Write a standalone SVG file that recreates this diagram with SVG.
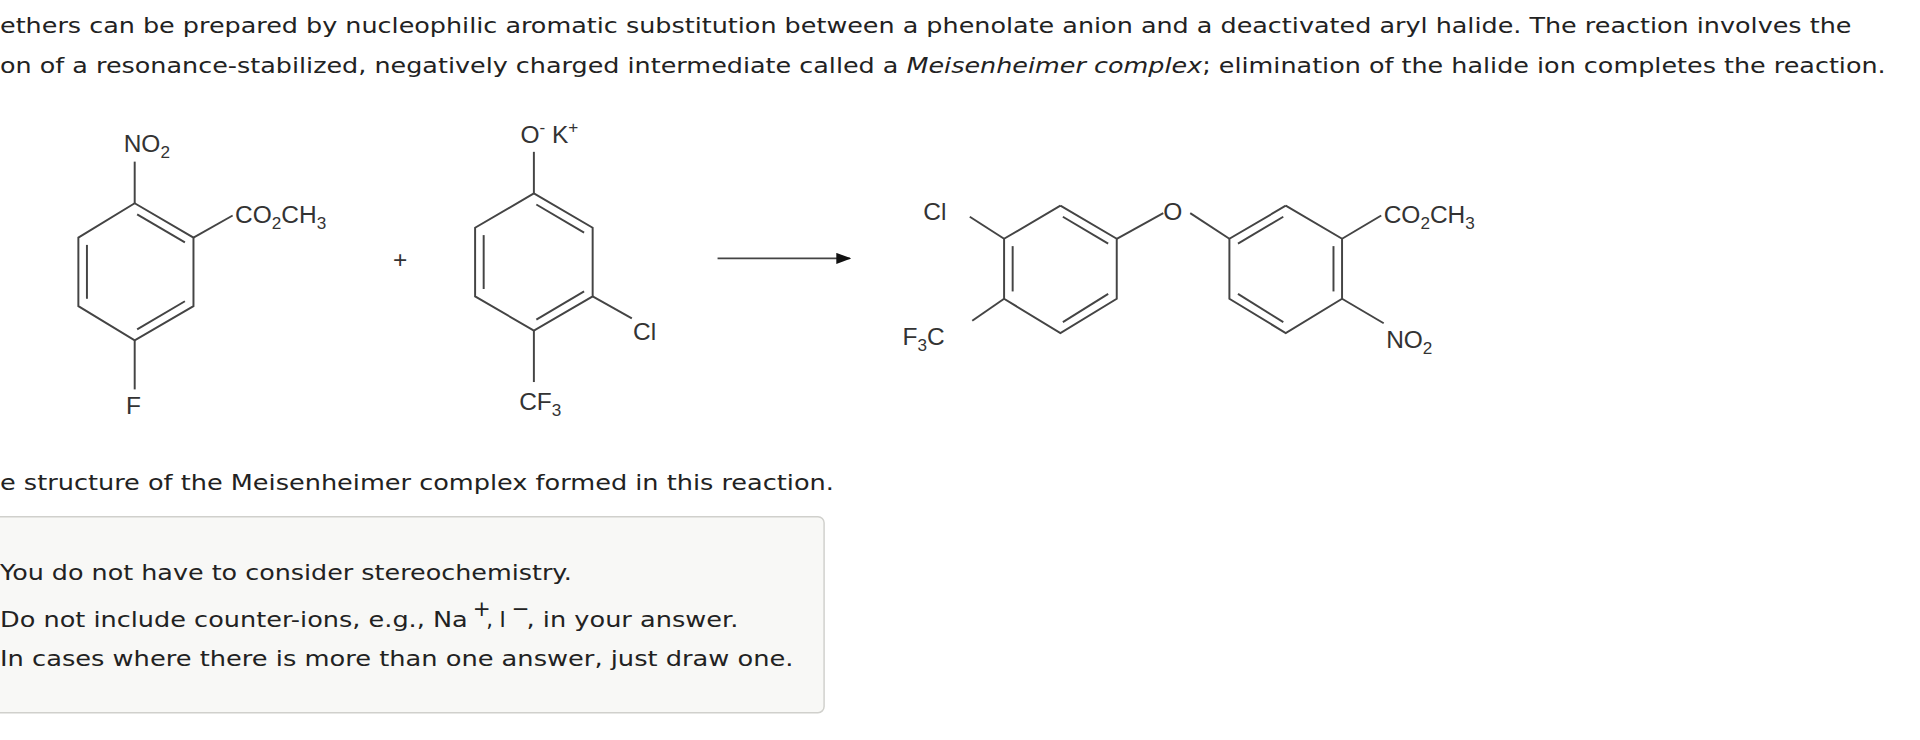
<svg xmlns="http://www.w3.org/2000/svg" width="1920" height="740" viewBox="0 0 1920 740">
<style>
.t{font-family:"DejaVu Sans",Verdana,sans-serif;font-size:17.5px;fill:#222}
.c{font-family:"Liberation Sans",Arial,sans-serif;font-size:20px;fill:#333}
.s{font-size:14px}
.b line,.b polyline{stroke:#444;stroke-width:1.6;fill:none}
</style>
<defs><marker id="ar" markerWidth="12" markerHeight="9" refX="11" refY="4.5" orient="auto" markerUnits="userSpaceOnUse"><path d="M0,0 L12,4.5 L0,9 Z" fill="#111"/></marker></defs>
<rect width="1920" height="740" fill="#fff"/>
<g transform="scale(1.2245)">
<g id="text">
<text class="t" x="0" y="27" textLength="1512" lengthAdjust="spacingAndGlyphs">ethers can be prepared by nucleophilic aromatic substitution between a phenolate anion and a deactivated aryl halide. The reaction involves the</text>
<text class="t" x="0" y="60" textLength="1540" lengthAdjust="spacingAndGlyphs">on of a resonance-stabilized, negatively charged intermediate called a <tspan font-style="italic">Meisenheimer complex</tspan>; elimination of the halide ion completes the reaction.</text>
<text class="t" x="0" y="400" textLength="681" lengthAdjust="spacingAndGlyphs">e structure of the Meisenheimer complex formed in this reaction.</text>
</g>
<g id="box">
<rect x="-6" y="422" width="679" height="160" rx="5" fill="#f8f8f6" stroke="#d0d0cc" stroke-width="1.2"/>
<text class="t" x="0" y="474" textLength="467" lengthAdjust="spacingAndGlyphs">You do not have to consider stereochemistry.</text>
<text class="t" x="0" y="512" textLength="382" lengthAdjust="spacingAndGlyphs">Do not include counter-ions, e.g., Na</text>
<text class="t" x="386" y="503" font-size="12">+</text>
<text class="t" x="397" y="512" textLength="16" lengthAdjust="spacingAndGlyphs">, I</text>
<text class="t" x="418" y="503" font-size="12">−</text>
<text class="t" x="430" y="512" textLength="173" lengthAdjust="spacingAndGlyphs">, in your answer.</text>
<text class="t" x="0" y="544" textLength="648" lengthAdjust="spacingAndGlyphs">In cases where there is more than one answer, just draw one.</text>
</g>
<g id="connectors" class="b">
<line x1="586" y1="211" x2="694" y2="211" stroke-width="2" marker-end="url(#ar)"/>
</g>
<g id="reactant1" class="b">
<polyline points="110,166 158,194 158,250 110,278 64,250 64,194 110,166"/>
<line x1="112" y1="175" x2="151" y2="198"/>
<line x1="71" y1="200" x2="71" y2="244"/>
<line x1="112" y1="269" x2="151" y2="246"/>
<line x1="110" y1="166" x2="110" y2="132"/>
<line x1="158" y1="194" x2="190" y2="176"/>
<line x1="110" y1="278" x2="110" y2="318"/>
<text class="c" x="101" y="124">NO<tspan class="s" dy="5">2</tspan></text>
<text class="c" x="192" y="182">CO<tspan class="s" dy="5">2</tspan><tspan dy="-5">CH</tspan><tspan class="s" dy="5">3</tspan></text>
<text class="c" x="103" y="338">F</text>
</g>
<g id="plus"><text class="c" x="321" y="219" font-size="15">+</text></g>
<g id="reactant2" class="b">
<polyline points="436,158 484,186 484,242 436,270 388,242 388,186 436,158"/>
<line x1="438" y1="167" x2="477" y2="190"/>
<line x1="395" y1="192" x2="395" y2="236"/>
<line x1="438" y1="261" x2="477" y2="238"/>
<line x1="436" y1="158" x2="436" y2="124"/>
<line x1="484" y1="242" x2="516" y2="260"/>
<line x1="436" y1="270" x2="436" y2="312"/>
<text class="c" x="425" y="117">O<tspan class="s" dy="-8">-</tspan><tspan dy="8"> K</tspan><tspan class="s" dy="-8">+</tspan></text>
<text class="c" x="517" y="278">Cl</text>
<text class="c" x="424" y="335">CF<tspan class="s" dy="5">3</tspan></text>
</g>
<g id="product" class="b">
<polyline points="866,168 912,195 912,244 866,272 820,244 820,195 866,168"/>
<line x1="868" y1="177" x2="905" y2="199"/>
<line x1="827" y1="201" x2="827" y2="238"/>
<line x1="868" y1="263" x2="905" y2="240"/>
<polyline points="1050,168 1096,195 1096,244 1050,272 1004,244 1004,195 1050,168"/>
<line x1="1048" y1="177" x2="1011" y2="199"/>
<line x1="1089" y1="201" x2="1089" y2="238"/>
<line x1="1048" y1="263" x2="1011" y2="240"/>
<line x1="820" y1="195" x2="792" y2="177"/>
<line x1="820" y1="244" x2="794" y2="262"/>
<line x1="912" y1="195" x2="950" y2="174"/>
<line x1="972" y1="174" x2="1004" y2="195"/>
<line x1="1096" y1="195" x2="1128" y2="176"/>
<line x1="1096" y1="244" x2="1130" y2="264"/>
<text class="c" x="754" y="180">Cl</text>
<text class="c" x="737" y="282">F<tspan class="s" dy="5">3</tspan><tspan dy="-5">C</tspan></text>
<text class="c" x="950" y="180">O</text>
<text class="c" x="1130" y="182">CO<tspan class="s" dy="5">2</tspan><tspan dy="-5">CH</tspan><tspan class="s" dy="5">3</tspan></text>
<text class="c" x="1132" y="284">NO<tspan class="s" dy="5">2</tspan></text>
</g>
</g>
</svg>
